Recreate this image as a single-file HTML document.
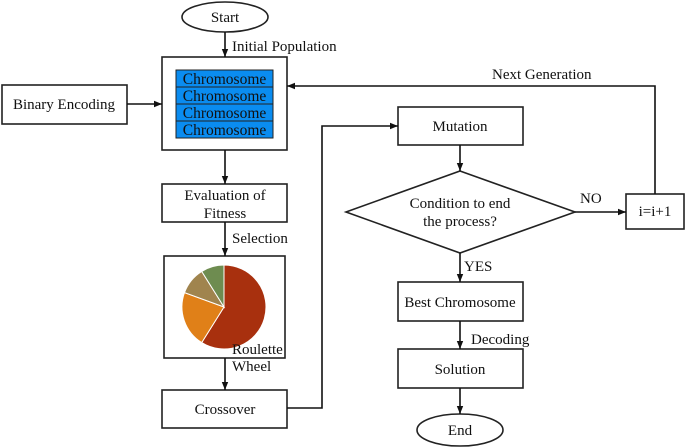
<!DOCTYPE html>
<html><head><meta charset="utf-8"><style>
html,body{margin:0;padding:0;background:#fff;}
svg{display:block;}
text{font-family:"Liberation Serif",serif;font-size:15px;fill:#111;}
.c{font-size:15.5px;}
</style></head><body>
<svg width="685" height="447" viewBox="0 0 685 447" xmlns="http://www.w3.org/2000/svg">
<defs><marker id="a" viewBox="0 0 10 10" refX="10" refY="5" markerWidth="5" markerHeight="5" orient="auto"><path d="M0,1 L10,5 L0,9 z" fill="#111"/></marker></defs>
<g stroke="#222" stroke-width="1.6" fill="#fff">
<ellipse cx="225" cy="17" rx="43" ry="15"/>
<rect x="162" y="57" width="125" height="93"/>
<rect x="2" y="85" width="125" height="39"/>
<rect x="162" y="184" width="125" height="38"/>
<rect x="164" y="256" width="121" height="102"/>
<rect x="162" y="390" width="125" height="38"/>
<rect x="398" y="107" width="125" height="38"/>
<polygon points="460,171 575,212 460,253 346,212"/>
<rect x="626" y="194" width="58" height="35"/>
<rect x="398" y="282" width="125" height="39"/>
<rect x="398" y="349" width="125" height="39"/>
<ellipse cx="460" cy="430" rx="43" ry="16"/>
</g>
<g stroke="#222" stroke-width="1" fill="#0a8cf0">
<rect x="176" y="70" width="97" height="17"/>
<rect x="176" y="87" width="97" height="17"/>
<rect x="176" y="104" width="97" height="17"/>
<rect x="176" y="121" width="97" height="17"/>
</g>
<g stroke="#fff" stroke-width="1">
<path d="M224,307 L224,265 A42,42 0 1 1 201.7,342.6 Z" fill="#a8300e"/>
<path d="M224,307 L201.7,342.6 A42,42 0 0 1 184.5,292.6 Z" fill="#e08018"/>
<path d="M224,307 L184.5,292.6 A42,42 0 0 1 201.7,271.4 Z" fill="#a0844e"/>
<path d="M224,307 L201.7,271.4 A42,42 0 0 1 224,265 Z" fill="#6e8c50"/>
</g>
<g stroke="#111" stroke-width="1.6" fill="none">
<line x1="225" y1="32" x2="225" y2="57" marker-end="url(#a)"/>
<line x1="127" y1="104" x2="162" y2="104" marker-end="url(#a)"/>
<line x1="225" y1="150" x2="225" y2="184" marker-end="url(#a)"/>
<line x1="225" y1="222" x2="225" y2="256" marker-end="url(#a)"/>
<line x1="225" y1="358" x2="225" y2="390" marker-end="url(#a)"/>
<polyline points="287,408 322,408 322,126 398,126" marker-end="url(#a)"/>
<line x1="460" y1="145" x2="460" y2="171" marker-end="url(#a)"/>
<line x1="575" y1="212" x2="626" y2="212" marker-end="url(#a)"/>
<polyline points="655,194 655,86 287,86" marker-end="url(#a)"/>
<line x1="460" y1="253" x2="460" y2="282" marker-end="url(#a)"/>
<line x1="460" y1="321" x2="460" y2="349" marker-end="url(#a)"/>
<line x1="460" y1="388" x2="460" y2="414" marker-end="url(#a)"/>
</g>
<g text-anchor="middle">
<text x="225" y="22">Start</text>
<text class="c" x="224.5" y="84">Chromosome</text>
<text class="c" x="224.5" y="101">Chromosome</text>
<text class="c" x="224.5" y="118">Chromosome</text>
<text class="c" x="224.5" y="135">Chromosome</text>
<text x="64" y="109">Binary Encoding</text>
<text x="225" y="200">Evaluation of</text>
<text x="225" y="218">Fitness</text>
<text x="225" y="414">Crossover</text>
<text x="460" y="131">Mutation</text>
<text x="460" y="208">Condition to end</text>
<text x="460" y="226">the process?</text>
<text x="655" y="216">i=i+1</text>
<text x="460" y="307">Best Chromosome</text>
<text x="460" y="374">Solution</text>
<text x="460" y="435">End</text>
</g>
<text x="232" y="51">Initial Population</text>
<text x="232" y="243">Selection</text>
<text x="232" y="354">Roulette</text>
<text x="232" y="371">Wheel</text>
<text x="492" y="79">Next Generation</text>
<text x="580" y="203">NO</text>
<text x="464" y="271">YES</text>
<text x="471" y="344">Decoding</text>
</svg>
</body></html>
